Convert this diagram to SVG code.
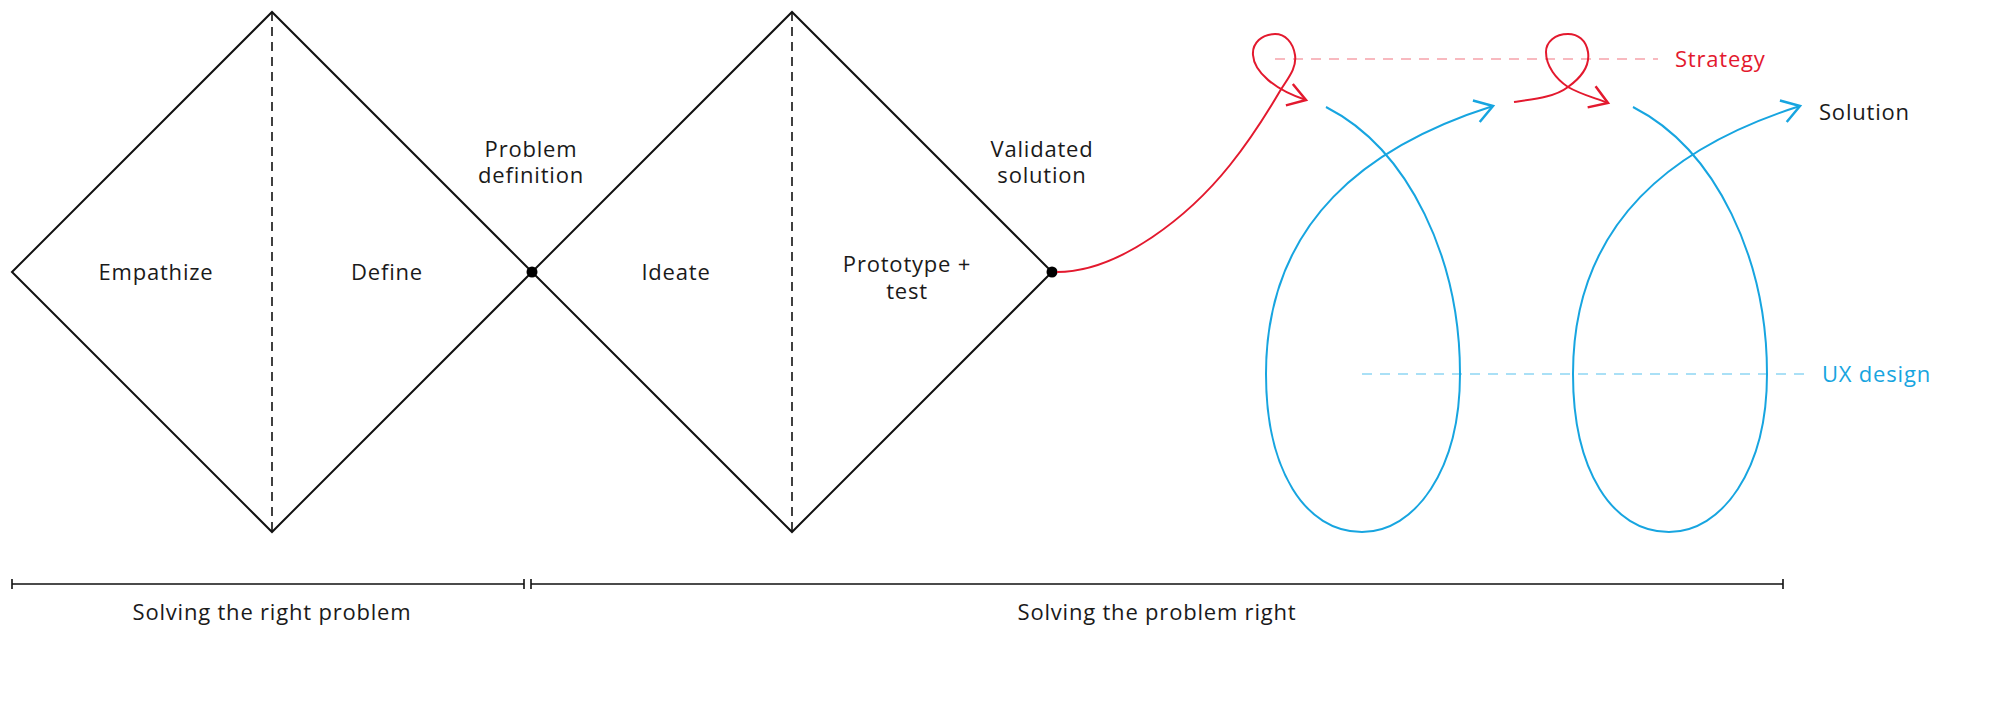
<svg xmlns="http://www.w3.org/2000/svg" width="2000" height="716" viewBox="0 0 2000 716">
<style>
  text { font-family: "Open Sans", "Liberation Sans", sans-serif; font-size: 22px; letter-spacing: 0.8px; fill: #1a1a1a; }
  .mid { text-anchor: middle; }
  .edge { fill: none; stroke: #111; stroke-width: 2; }
  .vdash { fill: none; stroke: #111; stroke-width: 1.6; stroke-dasharray: 9 6; }
  .red { fill: none; stroke: #e3192e; stroke-width: 2; }
  .blue { fill: none; stroke: #17a5e0; stroke-width: 2; }
  .rdash { stroke: #f6a3aa; stroke-width: 1.5; stroke-dasharray: 10 8; }
  .bdash { stroke: #8fd6f4; stroke-width: 1.5; stroke-dasharray: 10 8; }
  .bar { stroke: #111; stroke-width: 1.6; fill: none; }
</style>
<defs>
  <marker id="arrRed" markerUnits="userSpaceOnUse" markerWidth="30" markerHeight="30" refX="0" refY="0" viewBox="-16 -12 20 24" orient="auto" overflow="visible">
    <path d="M-14,-9 L0,0 L-14,9" fill="none" stroke="#e3192e" stroke-width="2"/>
  </marker>
  <marker id="arrBlue" markerUnits="userSpaceOnUse" markerWidth="30" markerHeight="30" refX="0" refY="0" viewBox="-16 -12 20 24" orient="auto" overflow="visible">
    <path d="M-14,-9 L0,0 L-14,9" fill="none" stroke="#17a5e0" stroke-width="2"/>
  </marker>
</defs>

<g id="diamond-1">
  <path class="edge" d="M12,272 L272,12 L532,272 L272,532 Z"/>
  <line class="vdash" x1="272" y1="12" x2="272" y2="532"/>
  <text class="mid" x="156" y="280">Empathize</text>
  <text class="mid" x="387" y="280">Define</text>
</g>

<g id="diamond-2">
  <path class="edge" d="M532,272 L792,12 L1052,272 L792,532 Z"/>
  <line class="vdash" x1="792" y1="12" x2="792" y2="532"/>
  <text class="mid" x="676" y="280">Ideate</text>
  <text class="mid" x="907" y="272">Prototype +</text>
  <text class="mid" x="907" y="299">test</text>
</g>

<g id="problem-definition">
  <circle cx="532" cy="272" r="5.5" fill="#000"/>
  <text class="mid" x="531" y="157">Problem</text>
  <text class="mid" x="531" y="183">definition</text>
</g>

<g id="validated-solution">
  <circle cx="1052" cy="272" r="5.5" fill="#000"/>
  <text class="mid" x="1042" y="157">Validated</text>
  <text class="mid" x="1042" y="183">solution</text>
</g>

<g id="strategy-lane">
  <line class="rdash" x1="1275" y1="59" x2="1658" y2="59"/>
  <text x="1675" y="67" style="fill:#e3192e">Strategy</text>
</g>

<g id="ux-lane">
  <line class="bdash" x1="1362" y1="374" x2="1806" y2="374"/>
  <text x="1822" y="382" style="fill:#17a5e0">UX design</text>
</g>

<g id="solution">
  <text x="1819" y="120">Solution</text>
</g>

<g id="connectors">
  <path class="red" marker-end="url(#arrRed)" d="M1057,272 C1120,272 1190,215 1230,165 C1250,140 1270,108 1280,91 C1288,78 1297,68 1295,55 C1293,42 1285,34 1275,34 C1262,34 1252,43 1253,55 C1254,72 1275,90 1306,100"/>
  <path class="red" marker-end="url(#arrRed)" d="M1514,102 C1535,99 1555,97 1568,87 C1582,77 1590,65 1588,52 C1586,40 1578,34 1568,34 C1555,34 1546,42 1546,52 C1546,66 1556,79 1568,87 C1580,94 1592,97 1608,103"/>
  <path class="blue" marker-end="url(#arrBlue)" d="M1326,107 C1410,150 1460,260 1460,374 C1460,470 1415,532 1362,532 C1305,532 1266,470 1266,374 C1266,220 1370,145 1493,106"/>
  <path class="blue" marker-end="url(#arrBlue)" transform="translate(307,0)" d="M1326,107 C1410,150 1460,260 1460,374 C1460,470 1415,532 1362,532 C1305,532 1266,470 1266,374 C1266,220 1370,145 1493,106"/>
</g>

<g id="phase-1">
  <path class="bar" d="M12,584 L524,584 M12,579 L12,589 M524,579 L524,589"/>
  <text class="mid" x="272" y="620">Solving the right problem</text>
</g>

<g id="phase-2">
  <path class="bar" d="M531,584 L1783,584 M531,579 L531,589 M1783,579 L1783,589"/>
  <text class="mid" x="1157" y="620">Solving the problem right</text>
</g>
</svg>
